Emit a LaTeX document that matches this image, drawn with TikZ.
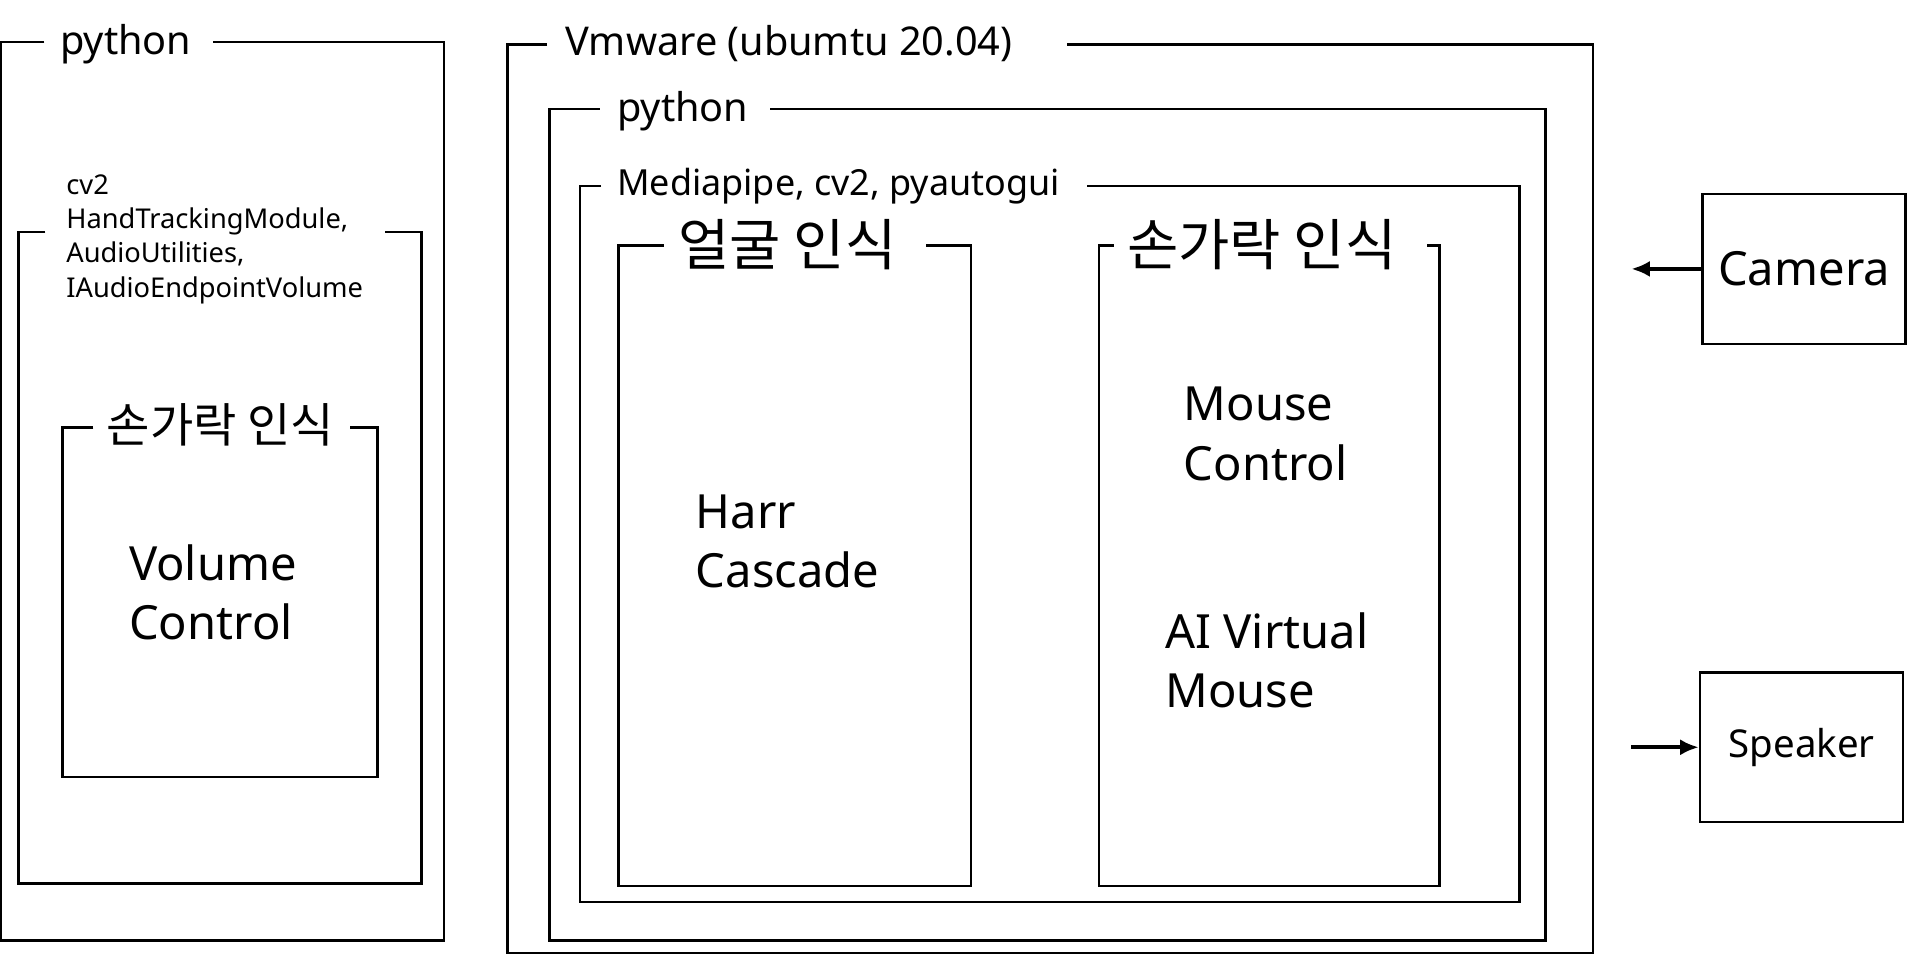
\documentclass[tikz,border=0pt]{standalone}
\usepackage{fontspec}
\setmainfont{Noto Sans}
\newfontfamily\kr{Noto Sans CJK KR}
\usetikzlibrary{arrows.meta}
\newcommand\gframe[6]{\draw (#5,#2) -- (#1,#2) -- (#1,#4) -- (#3,#4) -- (#3,#2) -- (#6,#2);}
\begin{document}
\begin{tikzpicture}[x=0.992pt,y=-1pt,line width=2pt,line join=miter,
  ttl/.style={inner sep=0pt,anchor=west,font=\fontsize{32}{38}\selectfont},
  ttlsm/.style={inner sep=0pt,anchor=west,font=\fontsize{29}{34}\selectfont},
  ttlkr/.style={inner sep=0pt,anchor=west,font=\kr\fontsize{45}{52}\selectfont},
  ttlkrsm/.style={inner sep=0pt,anchor=west,font=\kr\fontsize{38}{44}\selectfont},
  libtxt/.style={inner sep=0pt,anchor=west,align=left,font=\fontsize{22}{27.7}\selectfont},
  body/.style={inner sep=0pt,anchor=west,align=left,font=\fontsize{38}{48}\selectfont},
  dev/.style={draw,inner sep=0pt,minimum width=164pt,minimum height=121pt},
  arr/.style={line width=3.5pt,-{Latex[length=15pt,width=13pt]}}
]
\useasboundingbox (0,0) rectangle (1567.5,771);

% left python
\gframe{1}{34}{361}{759}{36}{173}
\node[ttl] (py1) at (48,36) {python};
% library box
\gframe{15}{187}{343}{713}{37}{313}
\node[libtxt] (lib) at (53,193) {cv2\\HandTrackingModule,\\AudioUtilities,\\IAudioEndpointVolume};
% finger box left
\gframe{51}{345}{307}{627}{76}{285}
\node[ttlkrsm] (fl) at (86,343) {손가락 인식};
\node[body] (vol) at (104,478) {Volume\\Control};

% Vmware
\gframe{413}{36}{1296}{769}{445}{868}
\node[ttl] (vm) at (459,35) {Vmware (ubumtu 20.04)};
% python inner
\gframe{447}{88}{1257}{759}{488}{626}
\node[ttl] (py2) at (501,90) {python};
% Mediapipe
\gframe{472}{150}{1236}{728}{489}{884}
\node[ttlsm] (mp) at (501,150) {Mediapipe, cv2, pyautogui};
% face
\gframe{503}{198}{790}{715}{540}{753}
\node[ttlkr] (face) at (551,197) {얼굴 인식};
\node[body] (harr) at (565,437) {Harr\\Cascade};
% finger right
\gframe{894}{198}{1171}{715}{906}{1161}
\node[ttlkr] (fr) at (916,197) {손가락 인식};
\node[body] (mc) at (962,350) {Mouse\\Control};
\node[body] (aivm) at (947,533) {AI Virtual\\Mouse};

% devices
\node[dev,font=\fontsize{38}{46}\selectfont] (cam) at (1467.5,217) {Camera};
\node[dev,font=\fontsize{31}{38}\selectfont] (spk) at (1465.5,603) {Speaker};
\coordinate (camend) at (1327,217);
\coordinate (spkstart) at (1327,603);
\draw[arr] (cam.west) -- (camend);
\draw[arr] (spkstart) -- (spk.west);
\end{tikzpicture}
\end{document}
